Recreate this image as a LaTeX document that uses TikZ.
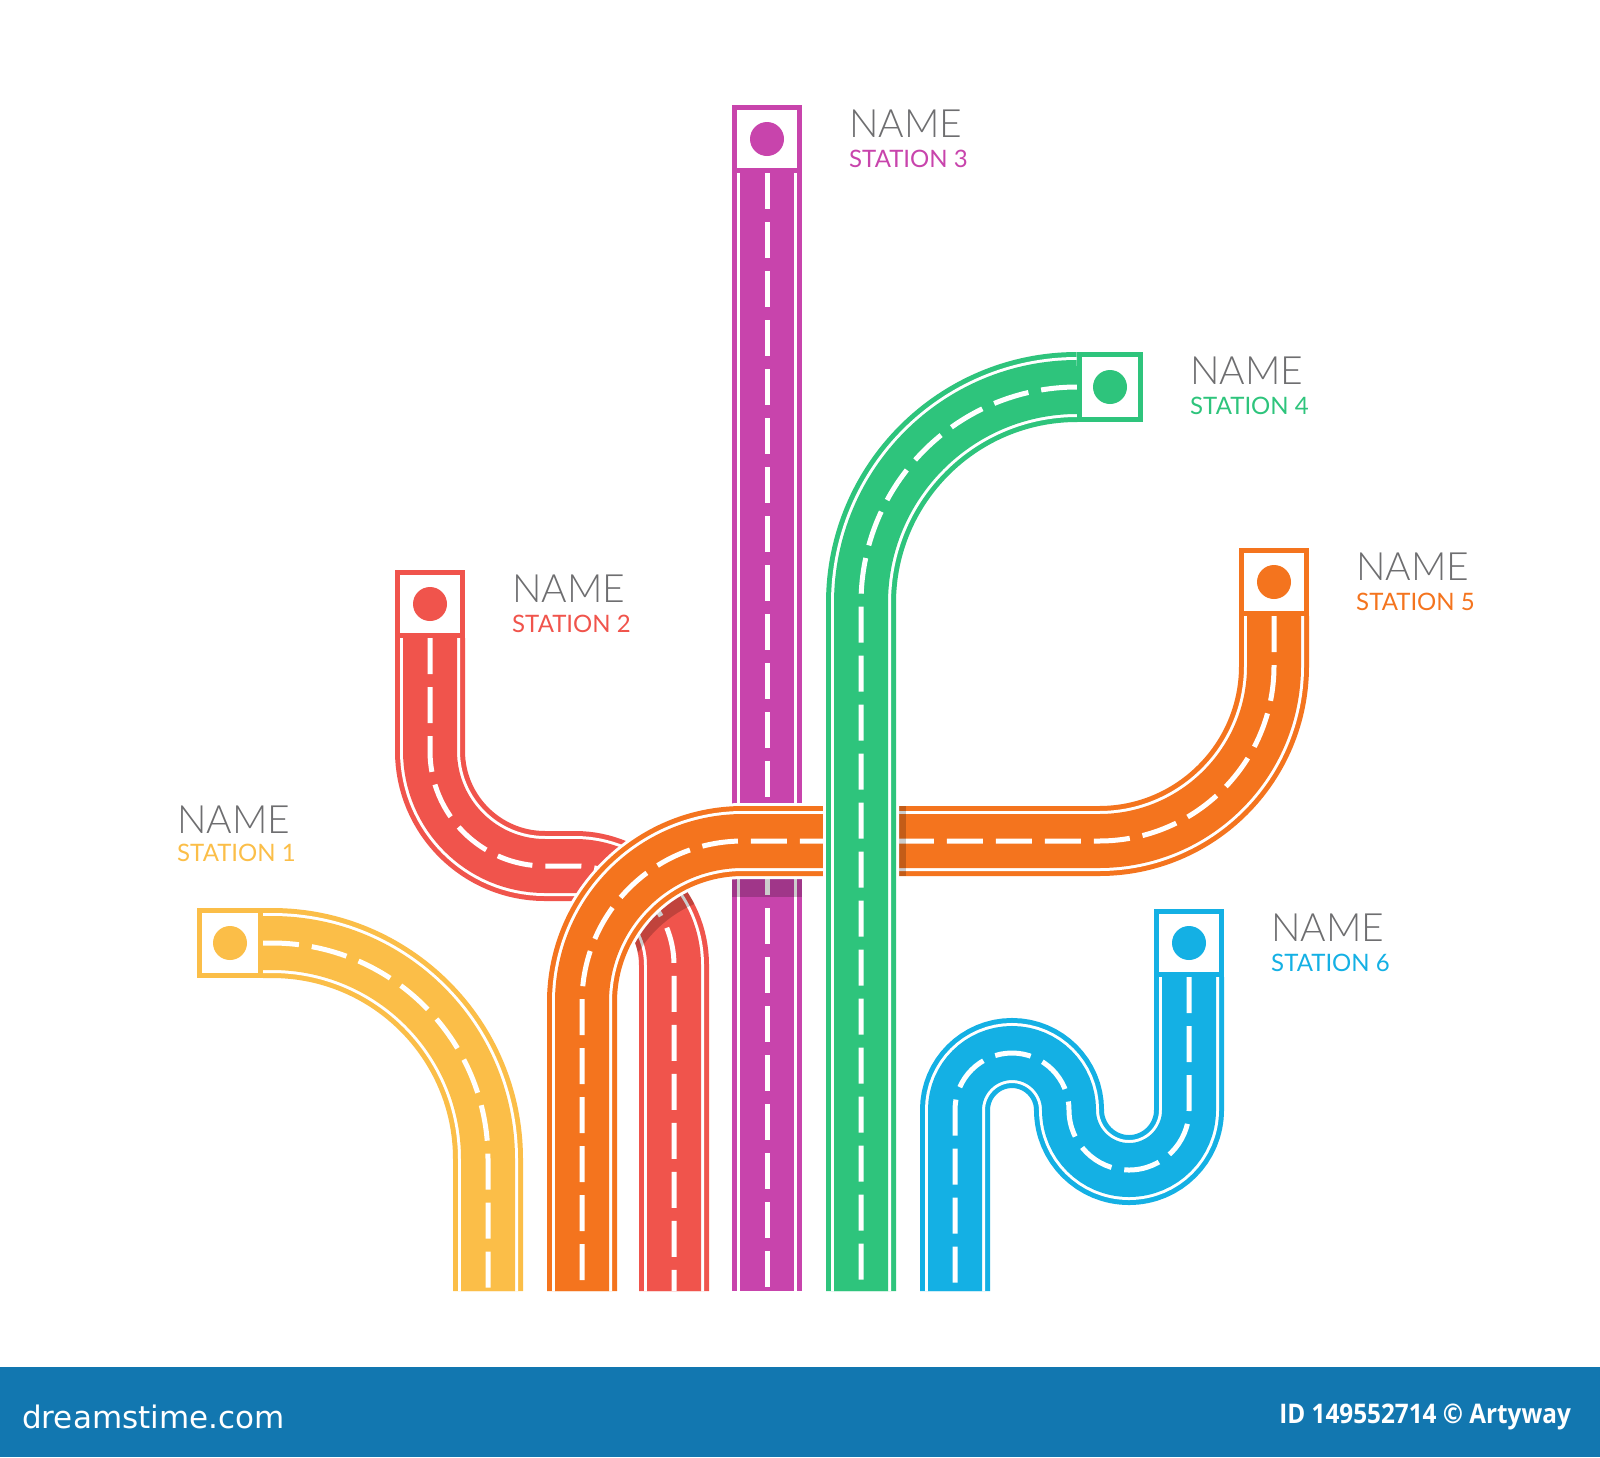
\documentclass[tikz,border=0pt]{standalone}
\usepackage{fontspec}
\setmainfont{Lato}
\newfontfamily\thinfont{Lato Light}
\newfontfamily\bannerfont{DejaVu Sans}
\newfontfamily\idfont{Open Sans}
\usetikzlibrary{positioning}

\definecolor{roadyellow}{RGB}{251,190,72}
\definecolor{roadred}{RGB}{240,84,76}
\definecolor{roadpurple}{RGB}{200,68,172}
\definecolor{roadgreen}{RGB}{46,196,124}
\definecolor{roadorange}{RGB}{244,116,30}
\definecolor{roadblue}{RGB}{20,176,228}
\definecolor{namegray}{RGB}{110,110,112}
\definecolor{bannerblue}{RGB}{18,119,176}

\pgfdeclarelayer{roads}
\pgfsetlayers{roads,main}

% one road: white casing, colour, white edge lines, dashed middle
\newcommand{\drawroad}[2]{%
  \draw[casing] #2;
  \draw[line width=70pt,#1] #2;
  \draw[line width=60pt,white] #2;
  \draw[line width=54pt,#1] #2;
  \draw[midline] #2;
}

\begin{document}
\begin{tikzpicture}[x=1pt,y=1pt,
    station/.style={draw=#1,fill=white,line width=5pt,inner sep=0pt,
      minimum width=65pt,minimum height=63pt},
    sidestation/.style={station=#1,minimum width=61pt,minimum height=65pt},
    casing/.style={white,line width=76pt},
    midline/.style={white,line width=5pt,dash pattern=on 36pt off 13pt},
    undershade/.style={black,opacity=.2},
    namelbl/.style={inner sep=0pt,text=namegray,font=\thinfont\fontsize{39}{40}\selectfont},
    stationlbl/.style={inner sep=0pt,text=#1,font=\fontsize{24}{26}\selectfont}]

  \useasboundingbox (0,0) rectangle (1600,-1457);

  % stations
  \node[sidestation=roadyellow] (st1) at (230,-943) {};
  \node[station=roadred] (st2) at (430,-604) {};
  \node[station=roadpurple] (st3) at (767,-139) {};
  \node[sidestation=roadgreen] (st4) at (1110,-387) {};
  \node[station=roadorange] (st5) at (1274,-582) {};
  \node[station=roadblue] (st6) at (1189,-943) {};
  \foreach \s/\c in {st1/roadyellow,st2/roadred,st3/roadpurple,
                     st4/roadgreen,st5/roadorange,st6/roadblue}
    \fill[\c] (\s) circle[radius=17pt];

  % labels
  \node[stationlbl=roadyellow, above right=46pt and -20pt of st1.north west] (sta1) {STATION 1};
  \node[namelbl, above right=10pt and 0pt of sta1.north west] (name1) {NAME};
  \node[namelbl, below right=5pt and 47pt of st2.north east] (name2) {NAME};
  \node[stationlbl=roadred, below right=12pt and 0pt of name2.south west] (sta2) {STATION 2};
  \node[namelbl, below right=5pt and 47pt of st3.north east] (name3) {NAME};
  \node[stationlbl=roadpurple, below right=12pt and 0pt of name3.south west] (sta3) {STATION 3};
  \node[namelbl, below right=5pt and 47pt of st4.north east] (name4) {NAME};
  \node[stationlbl=roadgreen, below right=12pt and 0pt of name4.south west] (sta4) {STATION 4};
  \node[namelbl, below right=5pt and 47pt of st5.north east] (name5) {NAME};
  \node[stationlbl=roadorange, below right=12pt and 0pt of name5.south west] (sta5) {STATION 5};
  \node[namelbl, below right=5pt and 47pt of st6.north east] (name6) {NAME};
  \node[stationlbl=roadblue, below right=12pt and 0pt of name6.south west] (sta6) {STATION 6};

  % road ends at the bottom
  \coordinate (end1) at (488,-1291);
  \coordinate (end2) at (674,-1291);
  \coordinate (end3) at (767,-1291);
  \coordinate (end4) at (861,-1291);
  \coordinate (end5) at (582,-1291);
  \coordinate (end6) at (955,-1291);

  \begin{pgfonlayer}{roads}
    \drawroad{roadyellow}{(st1.east) -- (272,-943) arc[start angle=90,end angle=0,radius=216] -- (end1)}
    \drawroad{roadblue}{(st6.south) -- (1189,-1110) arc[start angle=0,end angle=-180,radius=60]
      arc[start angle=0,end angle=180,radius=57] -- (end6)}
    \drawroad{roadpurple}{(st3.south) -- (end3)}
    \drawroad{roadred}{(st2.south) -- (430,-751) arc[start angle=180,end angle=270,radius=115]
      -- (575,-866) arc[start angle=90,end angle=0,radius=99] -- (end2)}
    % shadows under the orange road
    \fill[undershade] (732,-870) rectangle (802,-897);
    \begin{scope}[even odd rule]
      \clip (575,-965) rectangle (720,-860);
      \clip (575,-965) circle[radius=134] (575,-965) circle[radius=64];
      \draw[undershade,line width=76pt] (800,-856) -- (743,-856)
        arc[start angle=90,end angle=180,radius=161] -- ++(0,-120);
    \end{scope}
    \begin{scope}
      \clip (639,-965) rectangle (709,-1060);
      \draw[undershade,line width=76pt] (800,-856) -- (743,-856)
        arc[start angle=90,end angle=180,radius=161] -- ++(0,-120);
    \end{scope}
    \drawroad{roadorange}{(st5.south) -- (1274,-666) arc[start angle=0,end angle=-90,radius=175]
      -- (743,-841) arc[start angle=90,end angle=180,radius=161] -- (end5)}
    \fill[undershade] (899,-806) rectangle (906,-876);
    \drawroad{roadgreen}{(st4.west) arc[start angle=90,end angle=180,radius=216] -- (end4)}
  \end{pgfonlayer}

  % banner
  \fill[bannerblue] (0,-1367) rectangle (1600,-1457);
  \node[anchor=base west,inner sep=0pt,text=white,
        font=\bannerfont\fontsize{31}{31}\selectfont] (brand) at (22,-1428) {dreamstime.com};
  \node[anchor=base east,inner sep=0pt,text=white,
        font=\idfont\bfseries\fontsize{27}{27}\selectfont] (imgid) at (1571,-1423)
        {\scalebox{0.9}[1]{ID 149552714 © Artyway}};
\end{tikzpicture}
\end{document}
